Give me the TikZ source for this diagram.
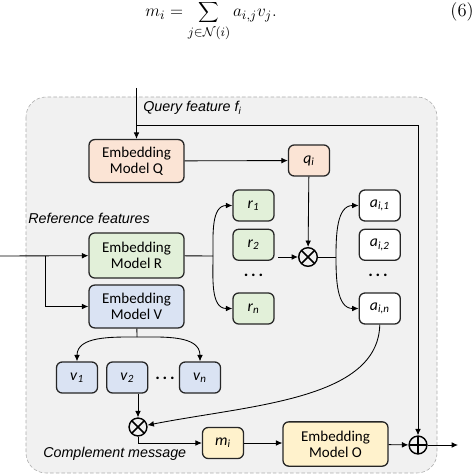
\documentclass[tikz,border=0pt]{standalone}
\usepackage{fontspec}
\setsansfont{Carlito}
\newfontfamily\arialfont{Liberation Sans}
\usetikzlibrary{arrows.meta,positioning}
\definecolor{peach}{HTML}{FBE4D5}
\definecolor{mint}{HTML}{E2F0D9}
\definecolor{sky}{HTML}{DAE3F3}
\definecolor{cream}{HTML}{FFF2CC}
\definecolor{panel}{HTML}{F1F1F1}
\newcommand\vlab[2]{\textit{#1}\textsubscript{\textit{#2}}}

\begin{document}
\begin{tikzpicture}[x=0.7pt,y=-0.7pt,% styles for the whole picture
		every node/.style={
			align=center,	% so that "\\" breaks the line
			inner sep=0pt
		},
		every edge/.style={draw,line width=0.6pt},
		block/.style={rectangle,rounded corners=4pt,draw=black!85,line width=0.9pt,
			minimum width=66.5pt,minimum height=30pt,font=\sffamily\fontsize{10.5}{11}\selectfont},
		vbox/.style={rectangle,rounded corners=4pt,draw=black!85,line width=0.9pt,
			minimum width=28.7pt,minimum height=21.7pt,font=\sffamily\fontsize{11}{12}\selectfont},
		lbl/.style={anchor=west,font=\arialfont\itshape\fontsize{10}{12}\selectfont},
		dots/.style={font=\sffamily\bfseries\fontsize{12}{12}\selectfont},
		mult/.style={circle,draw=black,line width=1pt,minimum size=12.5pt,
			path picture={\draw[line width=1pt]
				(path picture bounding box.north west) -- (path picture bounding box.south east)
				(path picture bounding box.north east) -- (path picture bounding box.south west);}},
		plus/.style={circle,draw=black,line width=1pt,minimum size=12.5pt,
			path picture={\draw[line width=1pt]
				(path picture bounding box.north) -- (path picture bounding box.south)
				(path picture bounding box.east) -- (path picture bounding box.west);}},
		arr/.style={line width=0.6pt,-{Latex[length=4.5pt,width=4pt]}}
	]
	\useasboundingbox (0,0) rectangle (474,476);
	% equation above the figure
	\node[anchor=base,font=\fontsize{13}{15}\selectfont](EQ) at (211,17) {$\displaystyle m_i = \sum_{j\in\mathcal{N}(i)} a_{i,j}v_j.$};
	\node[anchor=base east,font=\fontsize{13}{15}\selectfont](EQN) at (474,17) {(6)};
	% panel
	\draw[gray!65,dashed,dash pattern=on 2.5pt off 1.5pt,fill=panel,rounded corners=14pt] (26,97) rectangle (437,473);
	% blocks
	\node[block,fill=peach](Q) at (136.5,161) {Embedding\\Model Q};
	\node[block,fill=mint,minimum height=31.5pt](R) at (136.5,255.5) {Embedding\\Model R};
	\node[block,fill=sky](V) at (136.5,306.5) {Embedding\\Model V};
	\node[block,fill=cream,minimum width=73.5pt,minimum height=31pt](O) at (335.5,444) {Embedding\\Model O};
	\node[vbox,fill=peach](qi) at (309,160.5) {\vlab{q}{i}};
	\node[vbox,fill=mint](r1) at (253.5,205.5) {\vlab{r}{1}};
	\node[vbox,fill=mint](r2)[below=4.9pt of r1] {\vlab{r}{2}};
	\node[dots](rd) at (253.5,275) {.\hspace{2pt}.\hspace{2pt}.};
	\node[vbox,fill=mint](rn) at (253.5,308.5) {\vlab{r}{n}};
	\node[vbox,fill=white](a1)[right=58.8pt of r1] {\vlab{a}{i,1}};
	\node[vbox,fill=white](a2)[right=58.8pt of r2] {\vlab{a}{i,2}};
	\node[dots](ad) at (378,275) {.\hspace{2pt}.\hspace{2pt}.};
	\node[vbox,fill=white](an)[right=58.8pt of rn] {\vlab{a}{i,n}};
	\node[vbox,fill=sky](v1) at (77,377.5) {\vlab{v}{1}};
	\node[vbox,fill=sky](v2)[right=5.6pt of v1] {\vlab{v}{2}};
	\node[dots](vd) at (165,378) {.\hspace{2pt}.\hspace{2pt}.};
	\node[vbox,fill=sky](vn) at (200,377.5) {\vlab{v}{n}};
	\node[vbox,fill=cream](mi) at (223,443) {\vlab{m}{i}};
	\node[mult,minimum size=13pt](M1) at (308,257) {};
	\node[mult](M2) at (138,427) {};
	\node[plus](P) at (418,445) {};
	% labels
	\node[lbl](qlab) at (143,108) {Query feature \textit{f}\textsubscript{\textit{i}}};
	\node[lbl](reflab) at (28,218) {Reference features};
	\node[lbl](cmlab) at (43,454) {Complement message};
	% free ends and branch points
	\coordinate (qin) at (136.5,88);
	\coordinate (qsplit) at (136.5,125);
	\coordinate (rin) at (0,256);
	\coordinate (rsplit) at (45,256);
	\coordinate (rout) at (213,256);
	\coordinate (mx) at (278,257);
	\coordinate (ax) at (336,257);
	\coordinate (vsplit) at (137,337);
	\coordinate (out) at (458,445);
	% connectors
	\path[arr]
	(qin) edge (Q)
	(Q) edge (qi)
	(qi) edge (M1)
	(mx) edge (M1)
	(rin) edge (R)
	(mi.east) edge (O.west |- mi.east)
	(O) edge (P)
	(P) edge (out)
	;
	\draw[arr] (qsplit) -| (P);
	\draw[arr] (rsplit) |- (V);
	\draw[line width=0.6pt] (R) -- (rout);
	\draw[arr] (rout) to[out=90,in=180] (r1.west);
	\draw[arr] (rout) to[out=-90,in=180] (rn.west);
	\draw[line width=0.6pt] (M1) -- (ax);
	\draw[arr] (ax) to[out=90,in=180] (a1.west);
	\draw[arr] (ax) to[out=-90,in=180] (an.west);
	\draw[line width=0.6pt] (V) -- (vsplit);
	\draw[arr] (vsplit) to[out=180,in=90] (v1.north);
	\draw[arr] (vsplit) to[out=0,in=90] (vn.north);
	\draw[arr] (v2.south -| M2) -- (M2);
	\draw[arr] (an.south) .. controls (378,400) and (250,405) .. (M2);
	\draw[arr] (M2) |- (mi);
\end{tikzpicture}
\end{document}
